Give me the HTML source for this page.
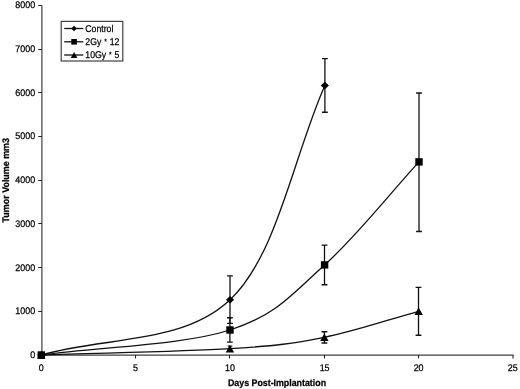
<!DOCTYPE html>
<html><head><meta charset="utf-8"><style>
html,body{margin:0;padding:0;background:#fff;width:520px;height:389px;overflow:hidden}
svg{display:block;text-rendering:geometricPrecision}
</style></head><body>
<svg width="520" height="389" viewBox="0 0 520 389">
<rect width="100%" height="100%" fill="#fff"/>
<g stroke="#404040" stroke-width="1.2" fill="none">
<path d="M41.9,5.5 V355.2 H513.5"/>
<path d="M38.2,355.50 H41.9" stroke-width="1.05" stroke="#222"/>
<path d="M38.2,311.50 H41.9" stroke-width="1.05" stroke="#222"/>
<path d="M38.2,267.50 H41.9" stroke-width="1.05" stroke="#222"/>
<path d="M38.2,223.50 H41.9" stroke-width="1.05" stroke="#222"/>
<path d="M38.2,180.50 H41.9" stroke-width="1.05" stroke="#222"/>
<path d="M38.2,136.50 H41.9" stroke-width="1.05" stroke="#222"/>
<path d="M38.2,92.50 H41.9" stroke-width="1.05" stroke="#222"/>
<path d="M38.2,49.50 H41.9" stroke-width="1.05" stroke="#222"/>
<path d="M38.2,5.50 H41.9" stroke-width="1.05" stroke="#222"/>
<path d="M41.90,355 V358.4" stroke-width="1.1" stroke="#222"/>
<path d="M135.50,355 V358.4" stroke-width="1.1" stroke="#222"/>
<path d="M229.50,355 V358.4" stroke-width="1.1" stroke="#222"/>
<path d="M324.50,355 V358.4" stroke-width="1.1" stroke="#222"/>
<path d="M418.50,355 V358.4" stroke-width="1.1" stroke="#222"/>
<path d="M513.00,355 V358.4" stroke-width="1.1" stroke="#222"/>
</g>
<text transform="translate(35.10,357.85) scale(0.930,1)" font-family="Liberation Sans, Arial, sans-serif" font-size="9.60" font-weight="normal" fill="#000" stroke="#000" stroke-width="0.25" text-anchor="end">0</text>
<text transform="translate(35.10,314.18) scale(0.930,1)" font-family="Liberation Sans, Arial, sans-serif" font-size="9.60" font-weight="normal" fill="#000" stroke="#000" stroke-width="0.25" text-anchor="end">1000</text>
<text transform="translate(35.10,270.50) scale(0.930,1)" font-family="Liberation Sans, Arial, sans-serif" font-size="9.60" font-weight="normal" fill="#000" stroke="#000" stroke-width="0.25" text-anchor="end">2000</text>
<text transform="translate(35.10,226.83) scale(0.930,1)" font-family="Liberation Sans, Arial, sans-serif" font-size="9.60" font-weight="normal" fill="#000" stroke="#000" stroke-width="0.25" text-anchor="end">3000</text>
<text transform="translate(35.10,183.15) scale(0.930,1)" font-family="Liberation Sans, Arial, sans-serif" font-size="9.60" font-weight="normal" fill="#000" stroke="#000" stroke-width="0.25" text-anchor="end">4000</text>
<text transform="translate(35.10,139.47) scale(0.930,1)" font-family="Liberation Sans, Arial, sans-serif" font-size="9.60" font-weight="normal" fill="#000" stroke="#000" stroke-width="0.25" text-anchor="end">5000</text>
<text transform="translate(35.10,95.80) scale(0.930,1)" font-family="Liberation Sans, Arial, sans-serif" font-size="9.60" font-weight="normal" fill="#000" stroke="#000" stroke-width="0.25" text-anchor="end">6000</text>
<text transform="translate(35.10,52.13) scale(0.930,1)" font-family="Liberation Sans, Arial, sans-serif" font-size="9.60" font-weight="normal" fill="#000" stroke="#000" stroke-width="0.25" text-anchor="end">7000</text>
<text transform="translate(35.10,8.45) scale(0.930,1)" font-family="Liberation Sans, Arial, sans-serif" font-size="9.60" font-weight="normal" fill="#000" stroke="#000" stroke-width="0.25" text-anchor="end">8000</text>
<text transform="translate(41.30,370.80) scale(0.930,1)" font-family="Liberation Sans, Arial, sans-serif" font-size="9.60" font-weight="normal" fill="#000" stroke="#000" stroke-width="0.25" text-anchor="middle">0</text>
<text transform="translate(135.60,370.80) scale(0.930,1)" font-family="Liberation Sans, Arial, sans-serif" font-size="9.60" font-weight="normal" fill="#000" stroke="#000" stroke-width="0.25" text-anchor="middle">5</text>
<text transform="translate(230.00,370.80) scale(0.930,1)" font-family="Liberation Sans, Arial, sans-serif" font-size="9.60" font-weight="normal" fill="#000" stroke="#000" stroke-width="0.25" text-anchor="middle">10</text>
<text transform="translate(324.60,370.80) scale(0.930,1)" font-family="Liberation Sans, Arial, sans-serif" font-size="9.60" font-weight="normal" fill="#000" stroke="#000" stroke-width="0.25" text-anchor="middle">15</text>
<text transform="translate(418.60,370.80) scale(0.930,1)" font-family="Liberation Sans, Arial, sans-serif" font-size="9.60" font-weight="normal" fill="#000" stroke="#000" stroke-width="0.25" text-anchor="middle">20</text>
<text transform="translate(512.80,370.80) scale(0.930,1)" font-family="Liberation Sans, Arial, sans-serif" font-size="9.60" font-weight="normal" fill="#000" stroke="#000" stroke-width="0.25" text-anchor="middle">25</text>
<text transform="translate(277.00,386.30) scale(0.920,1)" font-family="Liberation Sans, Arial, sans-serif" font-size="9.60" font-weight="bold" fill="#000" stroke="#000" stroke-width="0.25" text-anchor="middle">Days Post-Implantation</text>
<text transform="translate(8.90,180.20) rotate(-90) scale(0.930,1)" font-family="Liberation Sans, Arial, sans-serif" font-size="9.60" font-weight="bold" fill="#000" stroke="#000" stroke-width="0.25" text-anchor="middle">Tumor Volume mm3</text>
<g stroke="#111" stroke-width="1.3" fill="none">
<path d="M230.00,275.90 V323.40"/>
<path d="M324.90,58.60 V112.20"/>
<path d="M229.90,317.80 V342.10"/>
<path d="M324.50,245.15 V284.80"/>
<path d="M419.00,93.00 V231.50"/>
<path d="M230.00,346.10 V351.00"/>
<path d="M324.40,331.70 V343.00"/>
<path d="M418.50,287.40 V335.30"/>
</g>
<g stroke="#111" stroke-width="1.4" fill="none">
<path d="M227.10,275.90 H232.90 M227.10,323.40 H232.90"/>
<path d="M322.00,58.60 H327.80 M322.00,112.20 H327.80"/>
<path d="M227.00,317.80 H232.80 M227.00,342.10 H232.80"/>
<path d="M321.60,245.15 H327.40 M321.60,284.80 H327.40"/>
<path d="M416.10,93.00 H421.90 M416.10,231.50 H421.90"/>
<path d="M227.70,346.10 H232.30 M227.70,351.00 H232.30"/>
<path d="M321.50,331.70 H327.30 M321.50,343.00 H327.30"/>
<path d="M415.60,287.40 H421.40 M415.60,335.30 H421.40"/>
</g>
<g stroke="#111" stroke-width="1.3" fill="none">
<path d="M41.30,355.00 C104.22,336.60 182.79,344.72 230.05,299.80 C277.31,254.88 293.25,156.93 324.85,85.50"/>
<path d="M41.30,355.00 C104.20,346.67 182.78,345.02 230.00,330.00 C277.22,314.98 293.10,292.92 324.60,264.90 C356.10,236.88 387.53,196.23 419.00,161.90"/>
<path d="M41.30,355.00 C104.17,352.90 182.73,351.65 229.90,348.70 C277.07,345.75 292.89,343.53 324.35,337.30 C355.81,331.07 387.22,319.97 418.65,311.30"/>
</g>
<path d="M41.30,351.30 L45.40,355.00 L41.30,358.70 L37.20,355.00 Z" fill="#000"/>
<path d="M230.05,296.10 L234.15,299.80 L230.05,303.50 L225.95,299.80 Z" fill="#000"/>
<path d="M324.85,81.80 L328.95,85.50 L324.85,89.20 L320.75,85.50 Z" fill="#000"/>
<rect x="37.60" y="351.30" width="7.40" height="7.40" fill="#000"/>
<rect x="226.30" y="326.30" width="7.40" height="7.40" fill="#000"/>
<rect x="320.90" y="261.20" width="7.40" height="7.40" fill="#000"/>
<rect x="415.30" y="158.20" width="7.40" height="7.40" fill="#000"/>
<path d="M41.30,351.20 L45.50,358.80 L37.10,358.80 Z" fill="#000"/>
<path d="M229.90,344.90 L234.10,352.50 L225.70,352.50 Z" fill="#000"/>
<path d="M324.35,333.50 L328.55,341.10 L320.15,341.10 Z" fill="#000"/>
<path d="M418.65,307.50 L422.85,315.10 L414.45,315.10 Z" fill="#000"/>
<rect x="61.2" y="21.4" width="61.6" height="39.6" fill="#fff" stroke="#404040" stroke-width="1.2"/>
<g stroke="#111" stroke-width="1.3">
<path d="M64.2,28.50 H83.3"/>
<path d="M64.2,41.80 H83.3"/>
<path d="M64.2,55.00 H83.3"/>
</g>
<path d="M74.10,25.70 L76.90,28.50 L74.10,31.30 L71.30,28.50 Z" fill="#000"/>
<rect x="71.30" y="39.00" width="5.60" height="5.60" fill="#000"/>
<path d="M74.10,52.05 L77.40,57.95 L70.80,57.95 Z" fill="#000"/>
<text transform="translate(85.30,31.90) scale(0.890,1)" font-family="Liberation Sans, Arial, sans-serif" font-size="9.80" font-weight="normal" fill="#000" stroke="#000" stroke-width="0.25" text-anchor="start">Control</text>
<text transform="translate(85.30,45.20) scale(0.890,1)" font-family="Liberation Sans, Arial, sans-serif" font-size="9.80" font-weight="normal" fill="#000" stroke="#000" stroke-width="0.25" text-anchor="start">2Gy <tspan dx="0.55" dy="-1.3" font-size="7.6">*</tspan><tspan dx="0.5" dy="1.3"> 12</tspan></text>
<text transform="translate(85.30,58.40) scale(0.890,1)" font-family="Liberation Sans, Arial, sans-serif" font-size="9.80" font-weight="normal" fill="#000" stroke="#000" stroke-width="0.25" text-anchor="start">10Gy <tspan dx="0.55" dy="-1.3" font-size="7.6">*</tspan><tspan dx="0.5" dy="1.3"> 5</tspan></text>
</svg>
</body></html>
